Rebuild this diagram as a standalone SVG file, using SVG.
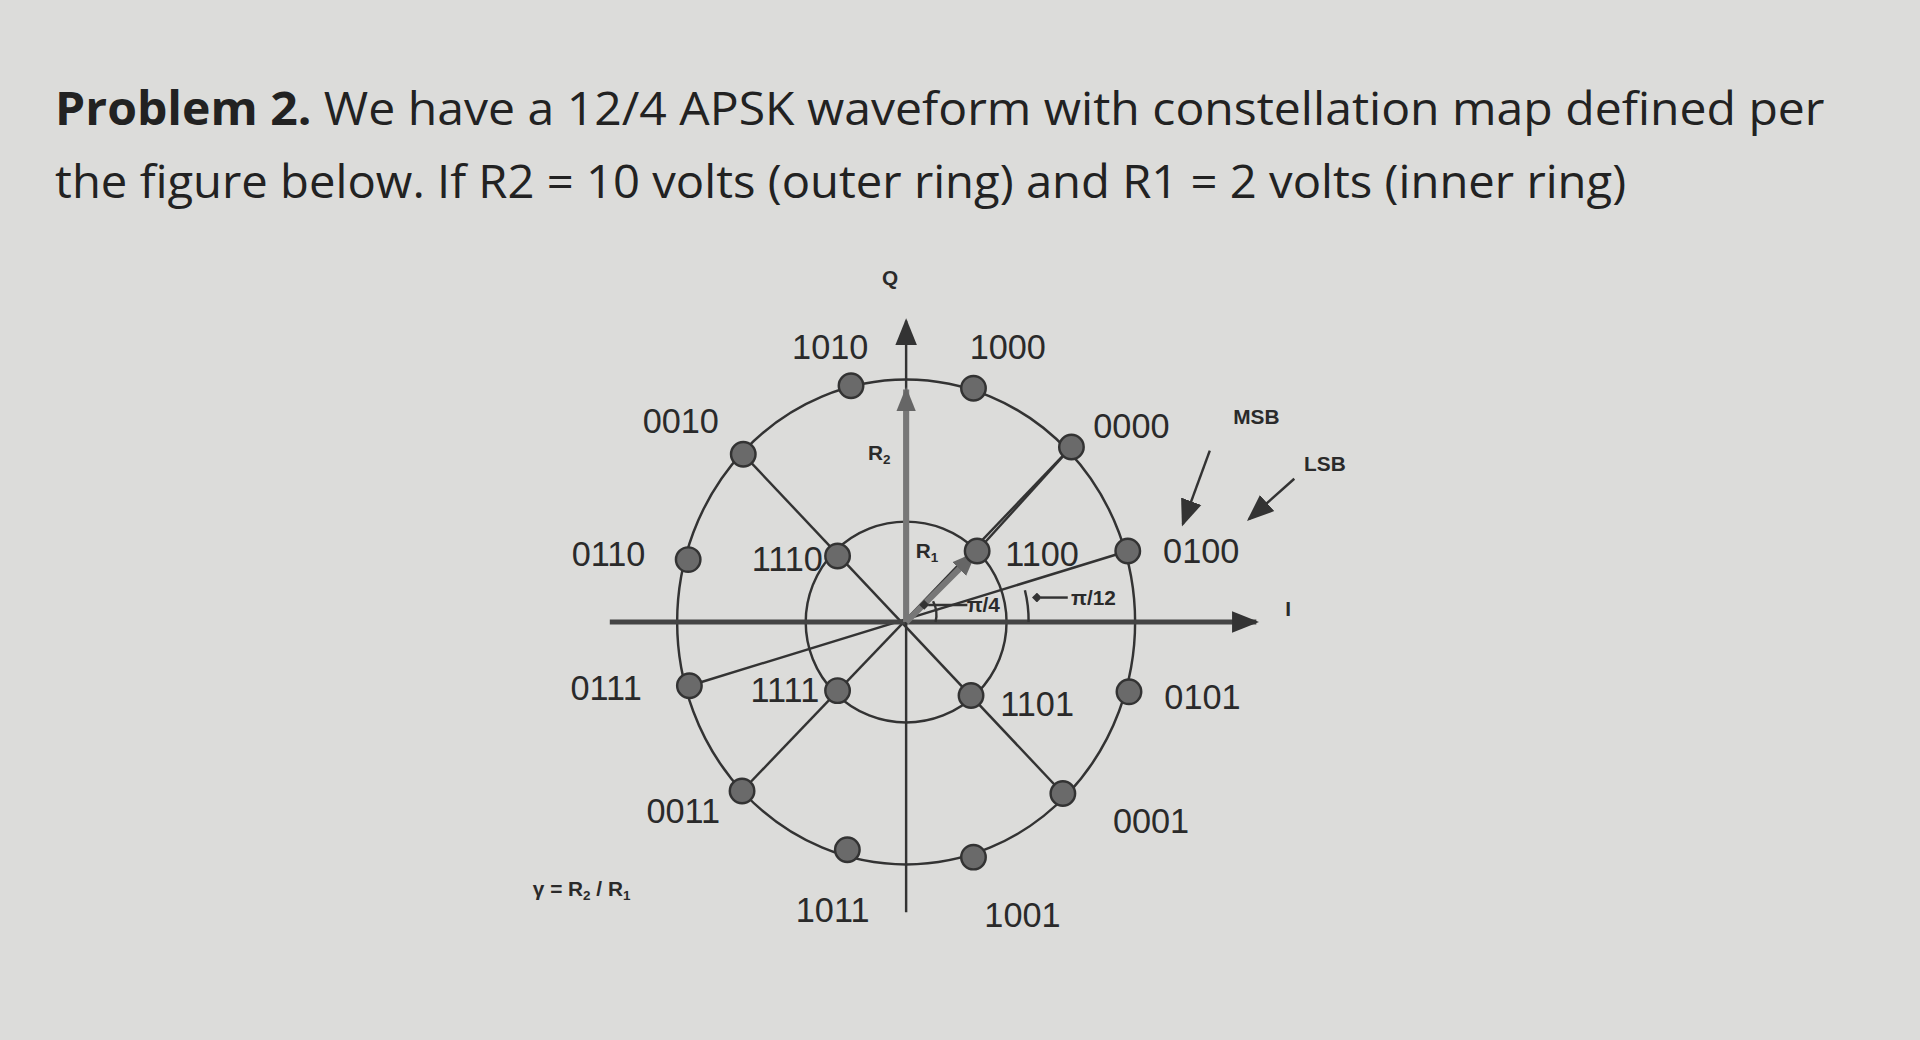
<svg xmlns="http://www.w3.org/2000/svg" width="1920" height="1040" viewBox="0 0 1920 1040">
<defs>
<marker id="ah" viewBox="0 0 10 10" refX="9" refY="5" markerWidth="7" markerHeight="7" markerUnits="userSpaceOnUse" orient="auto"><path d="M0,0 L10,5 L0,10 z" fill="#222"/></marker>
<marker id="ahb" viewBox="0 0 10 10" refX="9" refY="5" markerWidth="22" markerHeight="22" markerUnits="userSpaceOnUse" orient="auto"><path d="M0,1 L10,5 L0,9 z" fill="#333"/></marker>
<marker id="ahg" viewBox="0 0 10 10" refX="9" refY="5" markerWidth="20" markerHeight="20" markerUnits="userSpaceOnUse" orient="auto"><path d="M0,1 L10,5 L0,9 z" fill="#666"/></marker>
<marker id="ahs" viewBox="0 0 10 10" refX="1" refY="5" markerWidth="8" markerHeight="8" markerUnits="userSpaceOnUse" orient="auto-start-reverse"><path d="M0,5 L5,0 L10,5 L5,10 z" fill="#333"/></marker>
</defs>
<style>
.t{font-family:"Open Sans","Liberation Sans",sans-serif;fill:#222}
.l{font-family:"Liberation Sans",Arial,sans-serif;font-size:28px;fill:#2a2a2a;text-anchor:middle}
.s{font-family:"Liberation Sans",Arial,sans-serif;font-size:17px;font-weight:bold;fill:#2a2a2a;text-anchor:middle}
.ln{stroke:#333;stroke-width:2;fill:none}
.dot{fill:#6a6a6a;stroke:#333;stroke-width:2}
</style>
<rect width="1920" height="1040" fill="#dcdcda"/>
<g transform="scale(1.2245)">
<g id="title">
<text class="t" x="45" y="102" font-size="38" textLength="1445" lengthAdjust="spacingAndGlyphs"><tspan font-weight="bold">Problem 2.</tspan> We have a 12/4 APSK waveform with constellation map defined per</text>
<text class="t" x="45" y="162" font-size="38" textLength="1283" lengthAdjust="spacingAndGlyphs">the figure below. If R2 = 10 volts (outer ring) and R1 = 2 volts (inner ring)</text>
</g>
<g id="connectors">
<ellipse class="ln" cx="740" cy="508" rx="187" ry="198"/>
<circle class="ln" cx="740" cy="508" r="82"/>
<line class="ln" x1="607" y1="371" x2="868" y2="648"/>
<line class="ln" x1="875" y1="365" x2="606" y2="646"/>
<line class="ln" x1="798" y1="450" x2="875" y2="365"/>
<line class="ln" x1="563" y1="560" x2="921" y2="450"/>
<line stroke="#444" stroke-width="4" x1="498" y1="508" x2="1026" y2="508" marker-end="url(#ahb)"/>
<line class="ln" x1="740" y1="745" x2="740" y2="262" marker-end="url(#ahb)"/>
<line stroke="#777" stroke-width="5" x1="740" y1="508" x2="740" y2="318" marker-end="url(#ahg)"/>
<line stroke="#777" stroke-width="5" x1="740" y1="508" x2="796" y2="452" marker-end="url(#ahg)"/>
<path class="ln" d="M762,491 A24,24 0 0 1 764,508"/>
<path class="ln" d="M837,482 A100,100 0 0 1 840,508"/>
<line class="ln" x1="988" y1="368" x2="966" y2="428" marker-end="url(#ahb)"/>
<line class="ln" x1="1057" y1="391" x2="1020" y2="424" marker-end="url(#ahb)"/>
<line class="ln" x1="758" y1="494" x2="790" y2="494" marker-start="url(#ahs)"/>
<line class="ln" x1="850" y1="488" x2="872" y2="488" marker-start="url(#ahs)"/>
</g>
<g id="points">
<circle class="dot" cx="795" cy="317" r="10"/>
<circle class="dot" cx="695" cy="315" r="10"/>
<circle class="dot" cx="607" cy="371" r="10"/>
<circle class="dot" cx="562" cy="457" r="10"/>
<circle class="dot" cx="563" cy="560" r="10"/>
<circle class="dot" cx="606" cy="646" r="10"/>
<circle class="dot" cx="692" cy="694" r="10"/>
<circle class="dot" cx="795" cy="700" r="10"/>
<circle class="dot" cx="868" cy="648" r="10"/>
<circle class="dot" cx="922" cy="565" r="10"/>
<circle class="dot" cx="921" cy="450" r="10"/>
<circle class="dot" cx="875" cy="365" r="10"/>
<circle class="dot" cx="798" cy="450" r="10"/>
<circle class="dot" cx="684" cy="454" r="10"/>
<circle class="dot" cx="684" cy="564" r="10"/>
<circle class="dot" cx="793" cy="568" r="10"/>
</g>
<g id="labels">
<text class="l" x="678" y="293">1010</text>
<text class="l" x="823" y="293">1000</text>
<text class="l" x="556" y="354">0010</text>
<text class="l" x="924" y="358">0000</text>
<text class="l" x="497" y="462">0110</text>
<text class="l" x="643" y="466">1110</text>
<text class="l" x="851" y="462">1100</text>
<text class="l" x="981" y="460">0100</text>
<text class="l" x="495" y="572">0111</text>
<text class="l" x="641" y="573">1111</text>
<text class="l" x="847" y="585">1101</text>
<text class="l" x="982" y="579">0101</text>
<text class="l" x="558" y="672">0011</text>
<text class="l" x="940" y="680">0001</text>
<text class="l" x="680" y="753">1011</text>
<text class="l" x="835" y="757">1001</text>
<text class="s" x="727" y="233">Q</text>
<text class="s" x="1052" y="503">I</text>
<text class="s" x="1026" y="346">MSB</text>
<text class="s" x="1082" y="385">LSB</text>
<text class="s" x="718" y="376">R<tspan font-size="11" dy="3">2</tspan></text>
<text class="s" x="757" y="456">R<tspan font-size="11" dy="3">1</tspan></text>
<text class="s" x="803" y="500" font-size="14">π/4</text>
<text class="s" x="893" y="494">π/12</text>
<text class="s" x="475" y="732" font-weight="normal">γ = R<tspan font-size="11" dy="3">2</tspan><tspan dy="-3"> / R</tspan><tspan font-size="11" dy="3">1</tspan></text>
</g>
</g>
</svg>
